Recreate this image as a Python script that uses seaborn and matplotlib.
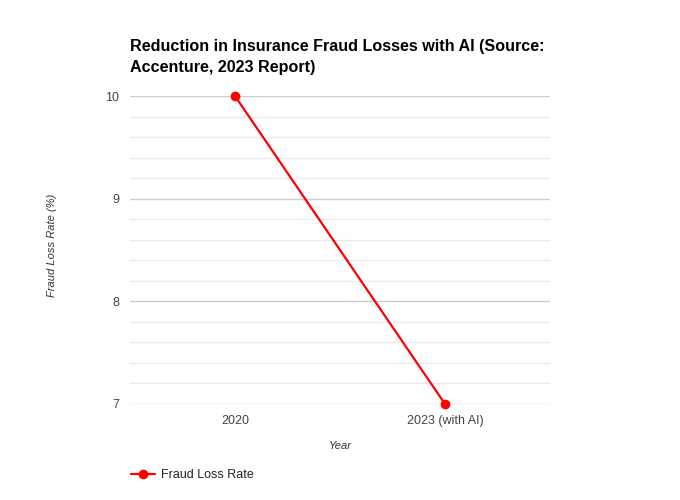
import matplotlib
matplotlib.use("Agg")
import matplotlib.pyplot as plt
import seaborn as sns
import pandas as pd
import numpy as np

# chart data
years = ["2020", "2023 (with AI)"]
fraud_loss_rate = [10, 7]

df = pd.DataFrame({"Year": years, "Fraud Loss Rate": fraud_loss_rate})
df["pos"] = np.arange(len(years))

sns.set_style("white")
plt.rcParams['font.family'] = ['Liberation Sans', 'DejaVu Sans']

fig = plt.figure(figsize=(6.8, 5), dpi=100)
ax = fig.add_axes([130/680, 1-404/500, 420/680, 308/500])

# gridlines: major every 1, minor every 0.2
for v in np.arange(7, 10.01, 0.2):
    major = abs(v - round(v)) < 1e-6
    ax.axhline(v, color="#cccccc" if major else "#ebebeb", lw=1, zorder=0)

sns.lineplot(data=df, x="pos", y="Fraud Loss Rate", ax=ax, color="#ff0000",
             lw=1.6, marker="o", markersize=7, markeredgewidth=0,
             label="Fraud Loss Rate", zorder=3, clip_on=False)

ax.set_xlim(-0.5, 1.5)
ax.set_ylim(7, 10)
ax.set_xticks(df["pos"])
ax.set_xticklabels(years)
ax.set_yticks([7, 8, 9, 10])
ax.tick_params(axis="both", length=0, labelsize=9, colors="#444444", pad=8)
for s in ax.spines.values():
    s.set_visible(False)

ax.set_xlabel("")
ax.set_ylabel("")
fig.text(340/680, 1-446/500, "Year", fontsize=8, style="italic", color="#333333",
         ha="center", va="center")
fig.text(52/680, 1-245/500, "Fraud Loss Rate (%)", fontsize=8, style="italic", color="#333333",
         ha="center", va="center", rotation=90)

fig.text(130/680, 1-57/500, "Reduction in Insurance Fraud Losses with AI (Source:\nAccenture, 2023 Report)",
         fontsize=11.6, fontweight="bold", color="#000000", va="center", ha="left", linespacing=1.55)

leg = ax.legend(loc="center left", bbox_to_anchor=(-0.025, 1-(475-96)/308), frameon=False,
                fontsize=9, handlelength=1.9, handletextpad=0.5)
for t in leg.get_texts():
    t.set_color("#222222")

fig.savefig("out.png", dpi=100)
